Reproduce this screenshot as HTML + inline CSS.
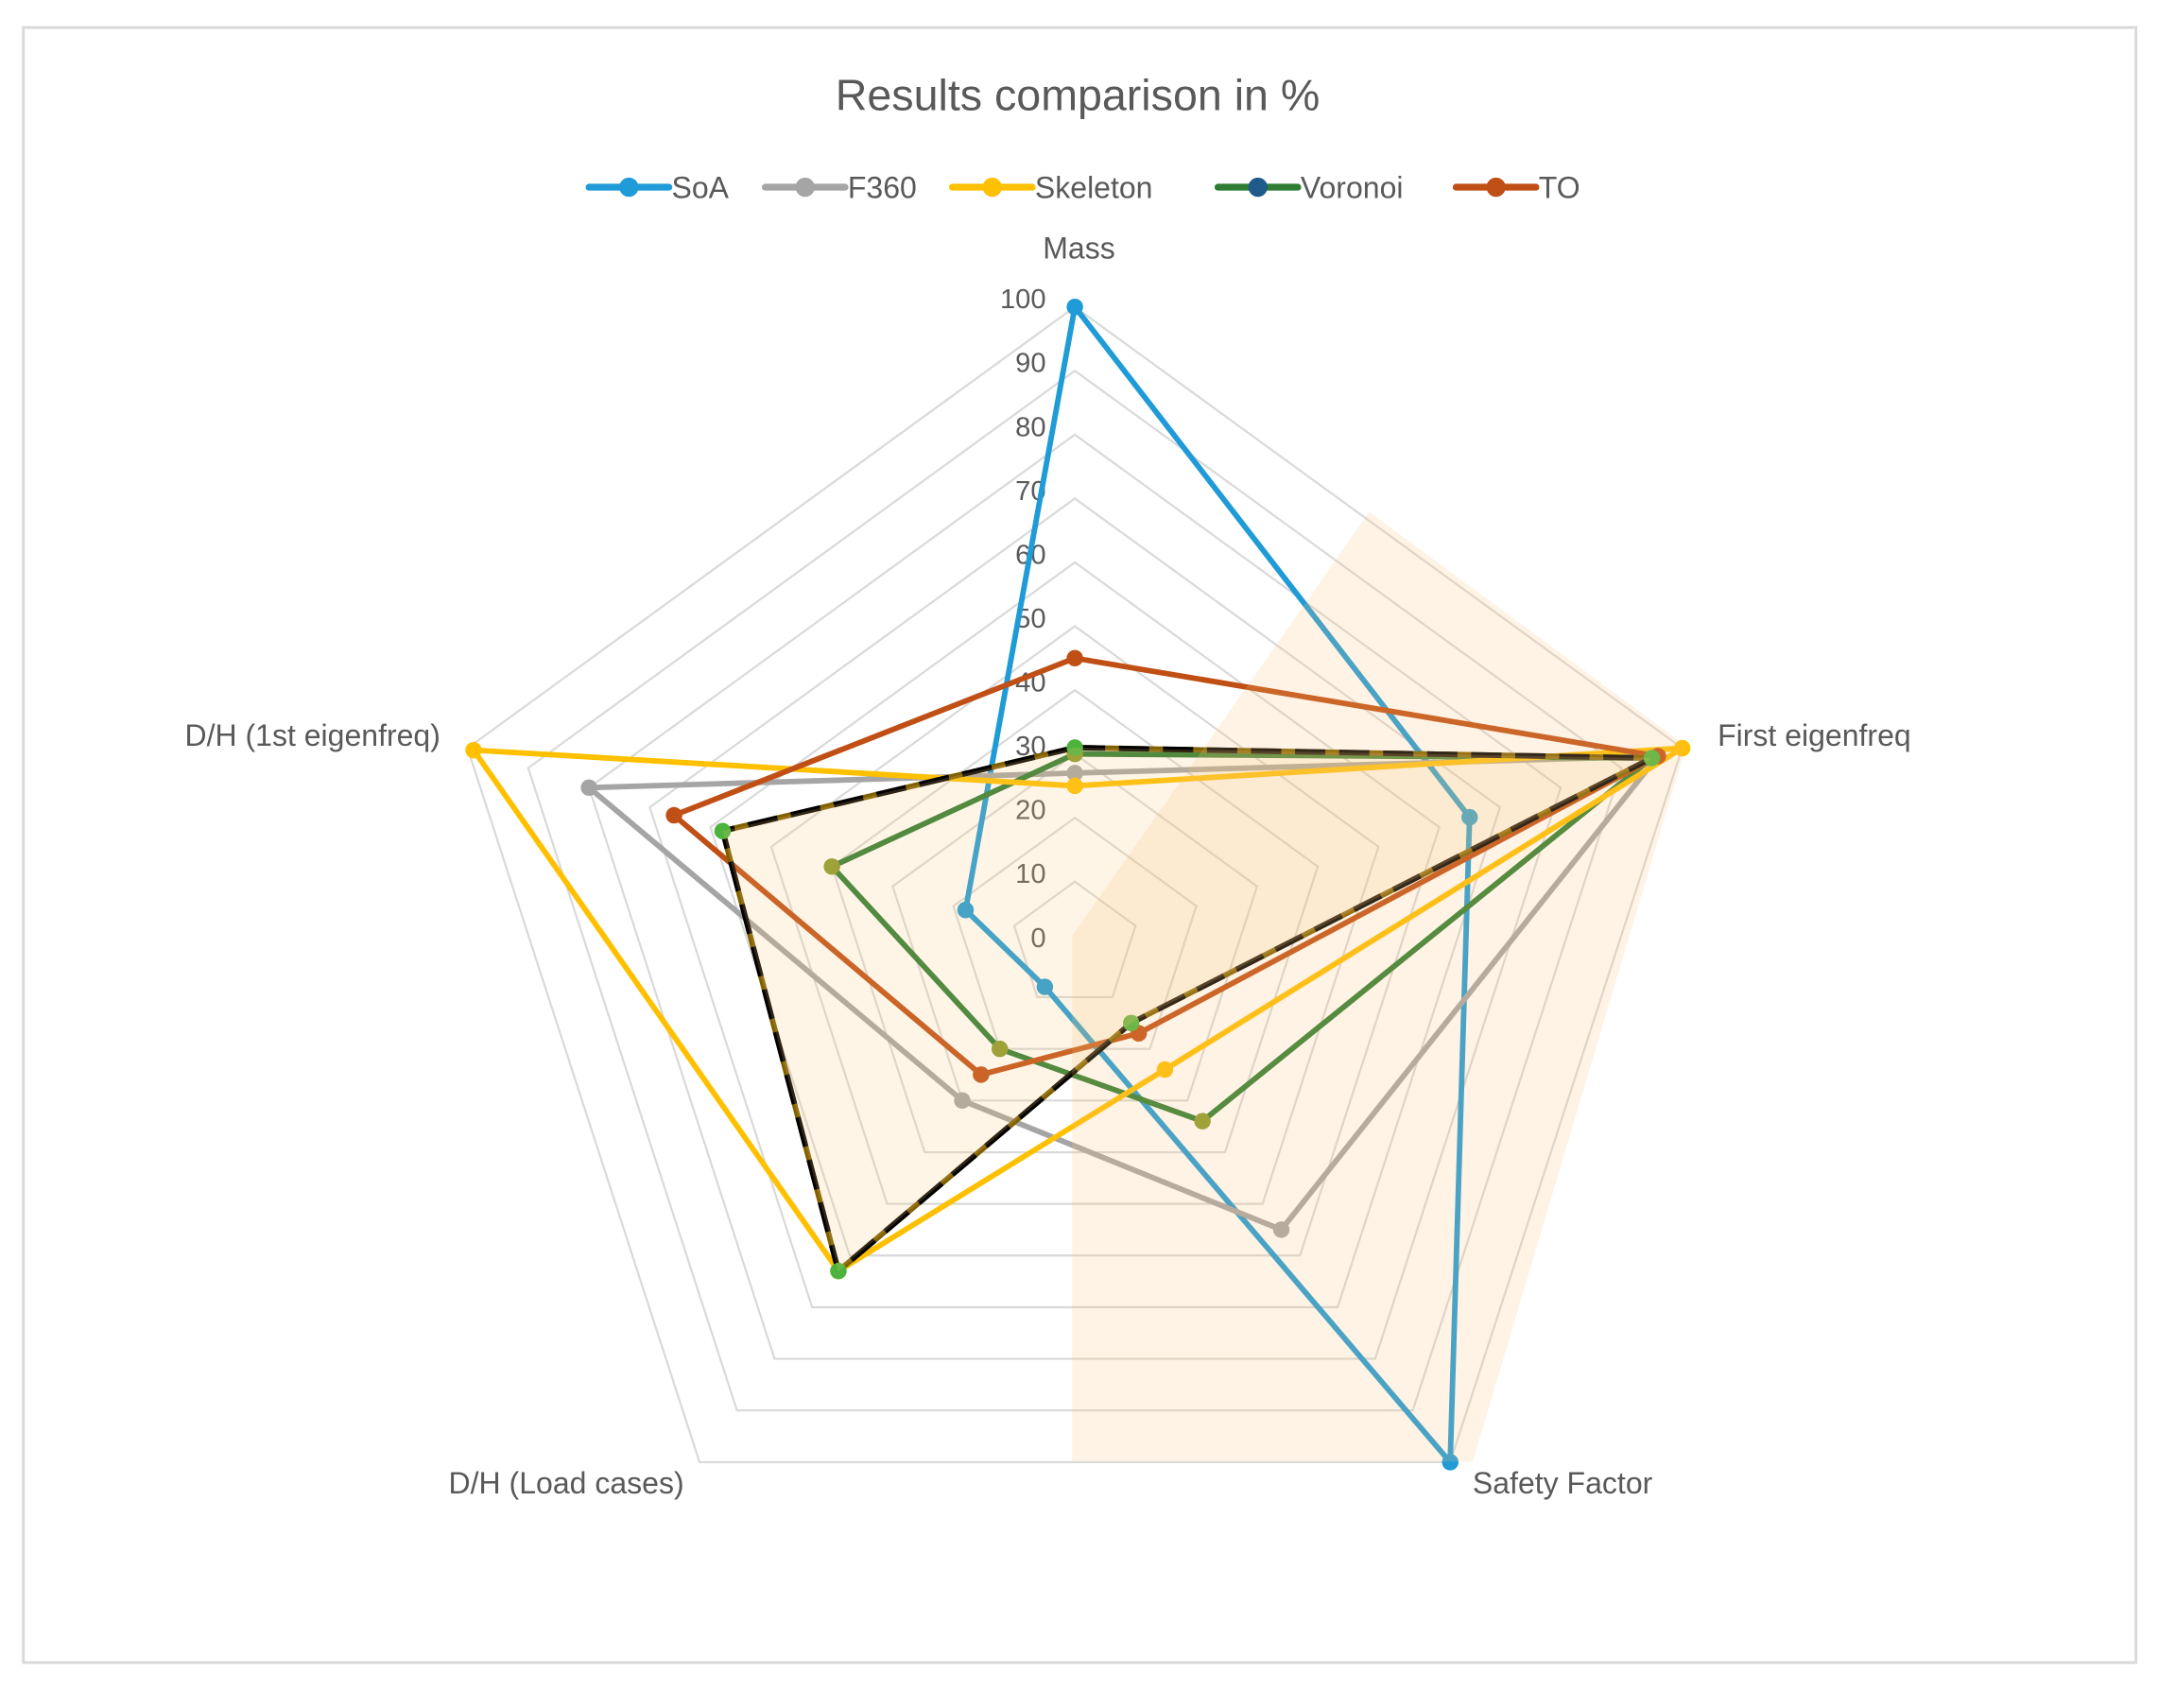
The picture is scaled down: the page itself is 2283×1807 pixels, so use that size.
<!DOCTYPE html>
<html><head><meta charset="utf-8"><style>
html,body{margin:0;padding:0;background:#fff;}
svg{display:block;}
text{font-family:"Liberation Sans",sans-serif;fill:#595959;}
</style></head><body>
<svg id="s" width="2283" height="1807" viewBox="0 0 1568 1241" preserveAspectRatio="none" xmlns="http://www.w3.org/2000/svg">
<rect x="0" y="0" width="1568" height="1241" fill="#fff"/>
<rect x="17" y="20" width="1535" height="1188" fill="#fff" stroke="#d9d9d9" stroke-width="2"/>
<text x="783" y="80" font-size="32" text-anchor="middle">Results comparison in %</text>
<g id="legend" font-size="22"></g>
<g id="grid"></g>
<g id="ticks" font-size="20"></g>
<g id="lines"></g>
<g id="shade"></g>
<g id="axlab" font-size="22">
<text x="784" y="188" text-anchor="middle">Mass</text>
<text x="1248" y="542">First eigenfreq</text>
<text x="1070" y="1085">Safety Factor</text>
<text x="497" y="1085" text-anchor="end">D/H (Load cases)</text>
<text x="320" y="542" text-anchor="end">D/H (1st eigenfreq)</text>
</g>
</svg>
<script>
const NS="http://www.w3.org/2000/svg";
const cx=781,cy=687,R=464;
const ang=[90,18,-54,-126,162].map(a=>a*Math.PI/180);
function pt(i,v){const r=R*v/100;return [cx+r*Math.cos(ang[i]),cy-r*Math.sin(ang[i])];}
function poly(vals){return vals.map((v,i)=>pt(i,v).map(n=>n.toFixed(1)).join(',')).join(' ');}
function el(p,tag,attrs,txt){const e=document.createElementNS(NS,tag);for(const k in attrs)e.setAttribute(k,attrs[k]);if(txt)e.textContent=txt;document.getElementById(p).appendChild(e);return e;}
for(let v=10;v<=100;v+=10){el('grid','polygon',{points:poly([v,v,v,v,v]),fill:'none',stroke:'#d9d9d9','stroke-width':1.5});}
for(let v=0;v<=100;v+=10){el('ticks','text',{x:760,y:cy-R*v/100+1,'text-anchor':'end'},String(v));}
const series=[
 {c:'#1f9bd7',v:[100,65,100,8,18]},
 {c:'#a5a5a5',v:[27,96,55,30,80]},
 {c:'#2e7d32',v:[30,95,34,20,40],m:'#8a9a2a'},
 {c:'#ffc000',v:[25,100,24,63,99]},
 {c:'#c04f15',v:[45,96,17,25,66]},
];
for(const s of series){
 el('lines','polygon',{points:poly(s.v),fill:'none',stroke:s.c,'stroke-width':4,'stroke-linejoin':'round'});
 s.v.forEach((v,i)=>{const p=pt(i,v);el('lines','circle',{cx:p[0],cy:p[1],r:6,fill:s.m||s.c});});
}
const dv=[31,95,15,63,58];
el('lines','polygon',{points:poly(dv),fill:'none',stroke:'#7f6000','stroke-width':4});
el('lines','polygon',{points:poly(dv),fill:'none',stroke:'#000','stroke-width':4,'stroke-dasharray':'22 10'});
dv.forEach((v,i)=>{const p=pt(i,v);el('lines','circle',{cx:p[0],cy:p[1],r:6,fill:'#4db33d'});});
el('shade','polygon',{points:'779,680 995,372 1225,542 1070,1062 779,1062',fill:'#f9c57a',opacity:0.2});
el('shade','polygon',{points:poly(dv),fill:'#f9c57a',opacity:0.18});
const leg=[['SoA','#1f9bd7',428],['F360','#a5a5a5',556],['Skeleton','#ffc000',692],['Voronoi','#2e7d32',885],['TO','#c04f15',1058]];
for(const [n,c,x] of leg){
 el('legend','line',{x1:x,y1:136,x2:x+58,y2:136,stroke:c,'stroke-width':5,'stroke-linecap':'round'});
 el('legend','circle',{cx:x+29,cy:136,r:7,fill:c==='#2e7d32'?'#1e5a8a':c});
 el('legend','text',{x:x+60,y:144},n);
}
</script>
</body></html>
